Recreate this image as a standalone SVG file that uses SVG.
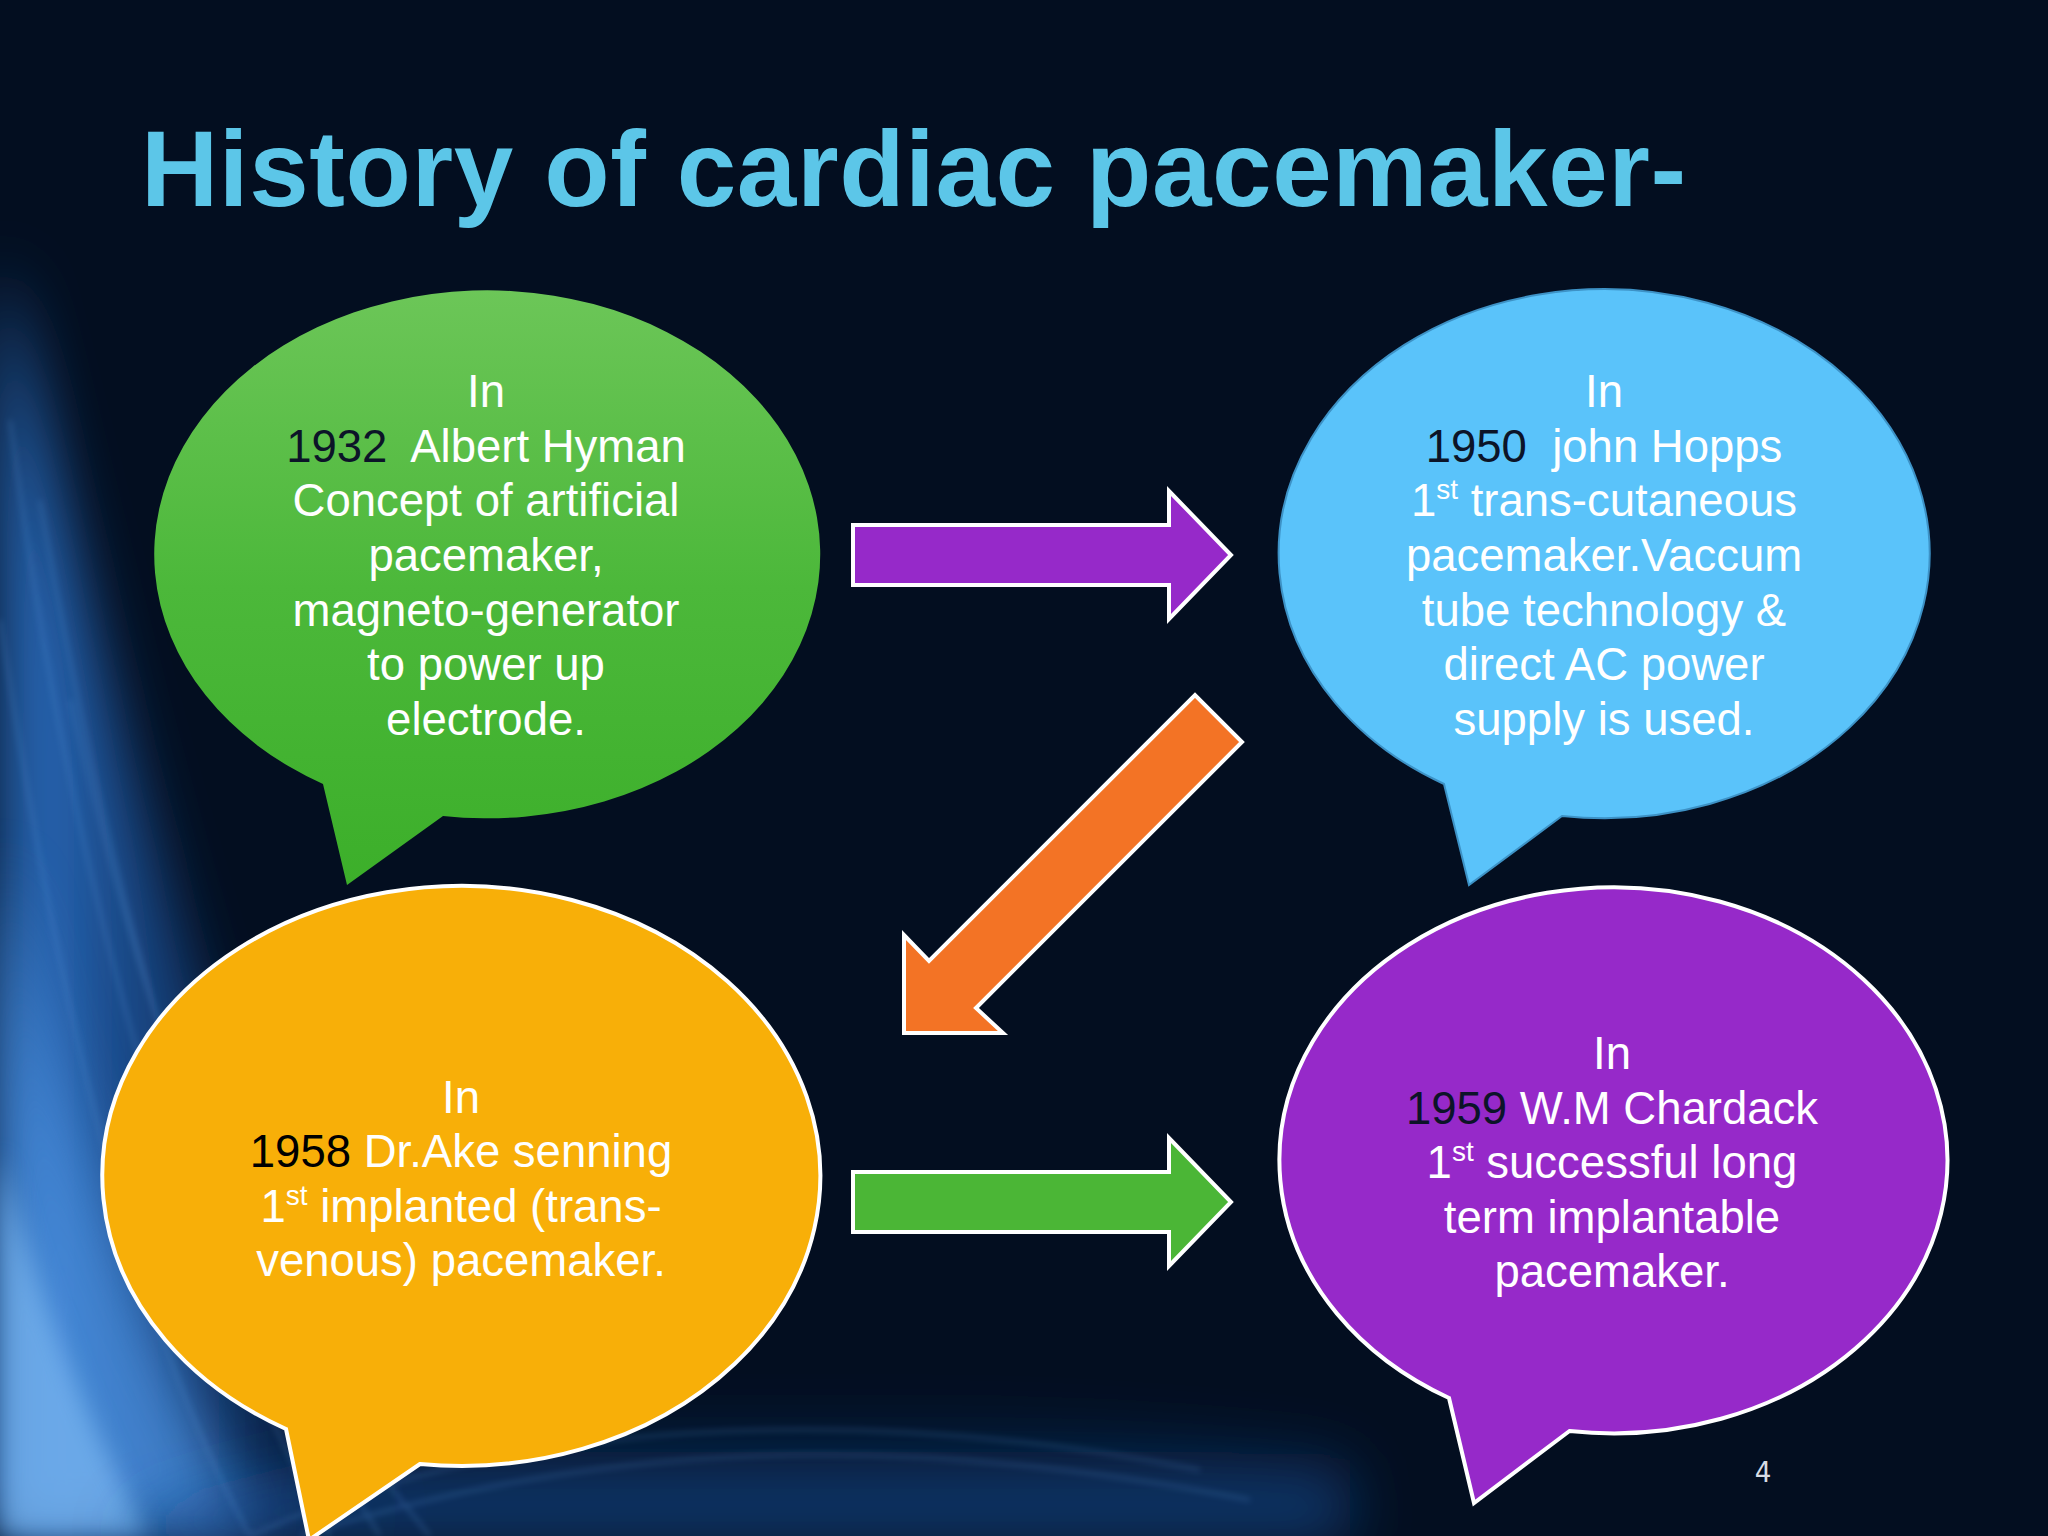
<svg xmlns="http://www.w3.org/2000/svg" width="2048" height="1536" viewBox="0 0 2048 1536">
<defs>
<style>
.t{font-family:"Liberation Sans",Arial,sans-serif;font-size:45.5px;fill:#ffffff;text-anchor:middle}
.yr{fill:#0c1428}
.sup{font-size:28px}
.arrow{stroke:#ffffff;stroke-width:4;stroke-linejoin:miter}
.wb{stroke:#ffffff;stroke-width:4}
</style>
<linearGradient id="gGreen" x1="0" y1="0" x2="0" y2="1">
<stop offset="0" stop-color="#6cc658"/>
<stop offset="0.5" stop-color="#4cb83a"/>
<stop offset="1" stop-color="#3caf2a"/>
</linearGradient>
<linearGradient id="gLeft" x1="0" y1="0" x2="1" y2="0">
<stop offset="0" stop-color="#2f78cf" stop-opacity="0.95"/>
<stop offset="0.5" stop-color="#1c53a0" stop-opacity="0.55"/>
<stop offset="1" stop-color="#0a2450" stop-opacity="0"/>
</linearGradient>
<linearGradient id="gBottom" x1="0" y1="0" x2="0" y2="1">
<stop offset="0" stop-color="#0f3a78" stop-opacity="0"/>
<stop offset="1" stop-color="#1b5aa8" stop-opacity="0.8"/>
</linearGradient>
<filter id="blur30" x="-50%" y="-50%" width="200%" height="200%"><feGaussianBlur stdDeviation="30"/></filter>
<filter id="blur12" x="-50%" y="-50%" width="200%" height="200%"><feGaussianBlur stdDeviation="12"/></filter>
<filter id="blur3" x="-50%" y="-50%" width="200%" height="200%"><feGaussianBlur stdDeviation="3"/></filter>
</defs>

<g id="background">
<rect x="0" y="0" width="2048" height="1536" fill="#030e20"/>
<path d="M0 260 C 90 600, 180 1050, 420 1536 L 0 1536 Z" fill="url(#gLeft)" filter="url(#blur30)"/>
<path d="M0 850 C 60 1100, 140 1330, 260 1536 L 0 1536 Z" fill="#4d93e2" opacity="0.75" filter="url(#blur30)"/>
<path d="M0 1150 C 40 1300, 90 1430, 150 1536 L 0 1536 Z" fill="#7bb8f2" opacity="0.7" filter="url(#blur12)"/>
<path d="M120 1536 C 400 1400, 800 1370, 1350 1460 L 1350 1536 Z" fill="url(#gBottom)" filter="url(#blur30)"/>
<g fill="none" stroke="#6aa8ee" stroke-width="3" opacity="0.25" filter="url(#blur3)">
<path d="M10 420 C 60 800, 150 1200, 330 1536"/>
<path d="M40 500 C 100 850, 200 1250, 380 1536"/>
<path d="M0 620 C 50 950, 120 1300, 250 1536"/>
<path d="M70 700 C 140 1000, 230 1300, 430 1536"/>
<path d="M250 1536 C 500 1420, 850 1400, 1200 1470"/>
<path d="M300 1536 C 600 1440, 900 1430, 1250 1500"/>
</g>
</g>

<g id="title">
<text x="141" y="206" font-family="'Liberation Sans',Arial,sans-serif" font-weight="bold" font-size="107" letter-spacing="0.6" fill="#5cc6e8">History of cardiac pacemaker-</text>
</g>

<g id="node-1932">
<path d="M443 816 L347 885 L323 784 A333 264 0 1 1 443 816 Z" fill="url(#gGreen)"/>
<text class="t" x="486" y="407">In</text>
<text class="t" x="486" y="462"><tspan class="yr">1932</tspan>&#160; Albert Hyman</text>
<text class="t" x="486" y="516">Concept of artificial</text>
<text class="t" x="486" y="571">pacemaker,</text>
<text class="t" x="486" y="626">magneto-generator</text>
<text class="t" x="486" y="680">to power up</text>
<text class="t" x="486" y="735">electrode.</text>
</g>

<g id="node-1950">
<path d="M1562 816 L1469 885 L1444 784 A325.5 264.5 0 1 1 1562 816 Z" fill="#5ac3fa" stroke="#3d92c6" stroke-width="2"/>
<text class="t" x="1604" y="407">In</text>
<text class="t" x="1604" y="462"><tspan class="yr">1950</tspan>&#160; john Hopps</text>
<text class="t" x="1604" y="516">1<tspan class="sup" dy="-17">st</tspan><tspan dy="17"> trans-cutaneous</tspan></text>
<text class="t" x="1604" y="571">pacemaker.Vaccum</text>
<text class="t" x="1604" y="626">tube technology &amp;</text>
<text class="t" x="1604" y="680">direct AC power</text>
<text class="t" x="1604" y="735">supply is used.</text>
</g>

<g id="node-1958">
<path d="M420 1464 L309 1540 L286 1429 A359 290 0 1 1 420 1464 Z" fill="#f8af08" class="wb"/>
<text class="t" x="461" y="1113">In</text>
<text class="t" x="461" y="1167"><tspan class="yr" style="fill:#000000">1958</tspan> Dr.Ake senning</text>
<text class="t" x="461" y="1222">1<tspan class="sup" dy="-17">st</tspan><tspan dy="17"> implanted (trans-</tspan></text>
<text class="t" x="461" y="1276">venous) pacemaker.</text>
</g>

<g id="node-1959">
<path d="M1569.5 1431 L1474 1503 L1449 1398 A334 273 0 1 1 1569.5 1431 Z" fill="#9629c9" class="wb"/>
<text class="t" x="1612" y="1069">In</text>
<text class="t" x="1612" y="1124"><tspan class="yr">1959</tspan> W.M Chardack</text>
<text class="t" x="1612" y="1178">1<tspan class="sup" dy="-17">st</tspan><tspan dy="17"> successful long</tspan></text>
<text class="t" x="1612" y="1233">term implantable</text>
<text class="t" x="1612" y="1287">pacemaker.</text>
</g>

<g id="connectors">
<polygon class="arrow" fill="#9629c9" points="853,525 1169,525 1169,491 1231,555 1169,619 1169,585 853,585"/>
<polygon class="arrow" fill="#f37325" points="904,1033 904,935 929,961 1195,695 1242,742 976,1008 1003,1033"/>
<polygon class="arrow" fill="#4bb636" points="853,1172 1169,1172 1169,1138 1231,1202 1169,1266 1169,1232 853,1232"/>
</g>

<g id="page-number">
<text x="1763" y="1482" font-family="'DejaVu Sans Condensed','DejaVu Sans',sans-serif" font-weight="300" font-size="29" fill="#d8dce4" text-anchor="middle">4</text>
</g>
</svg>
